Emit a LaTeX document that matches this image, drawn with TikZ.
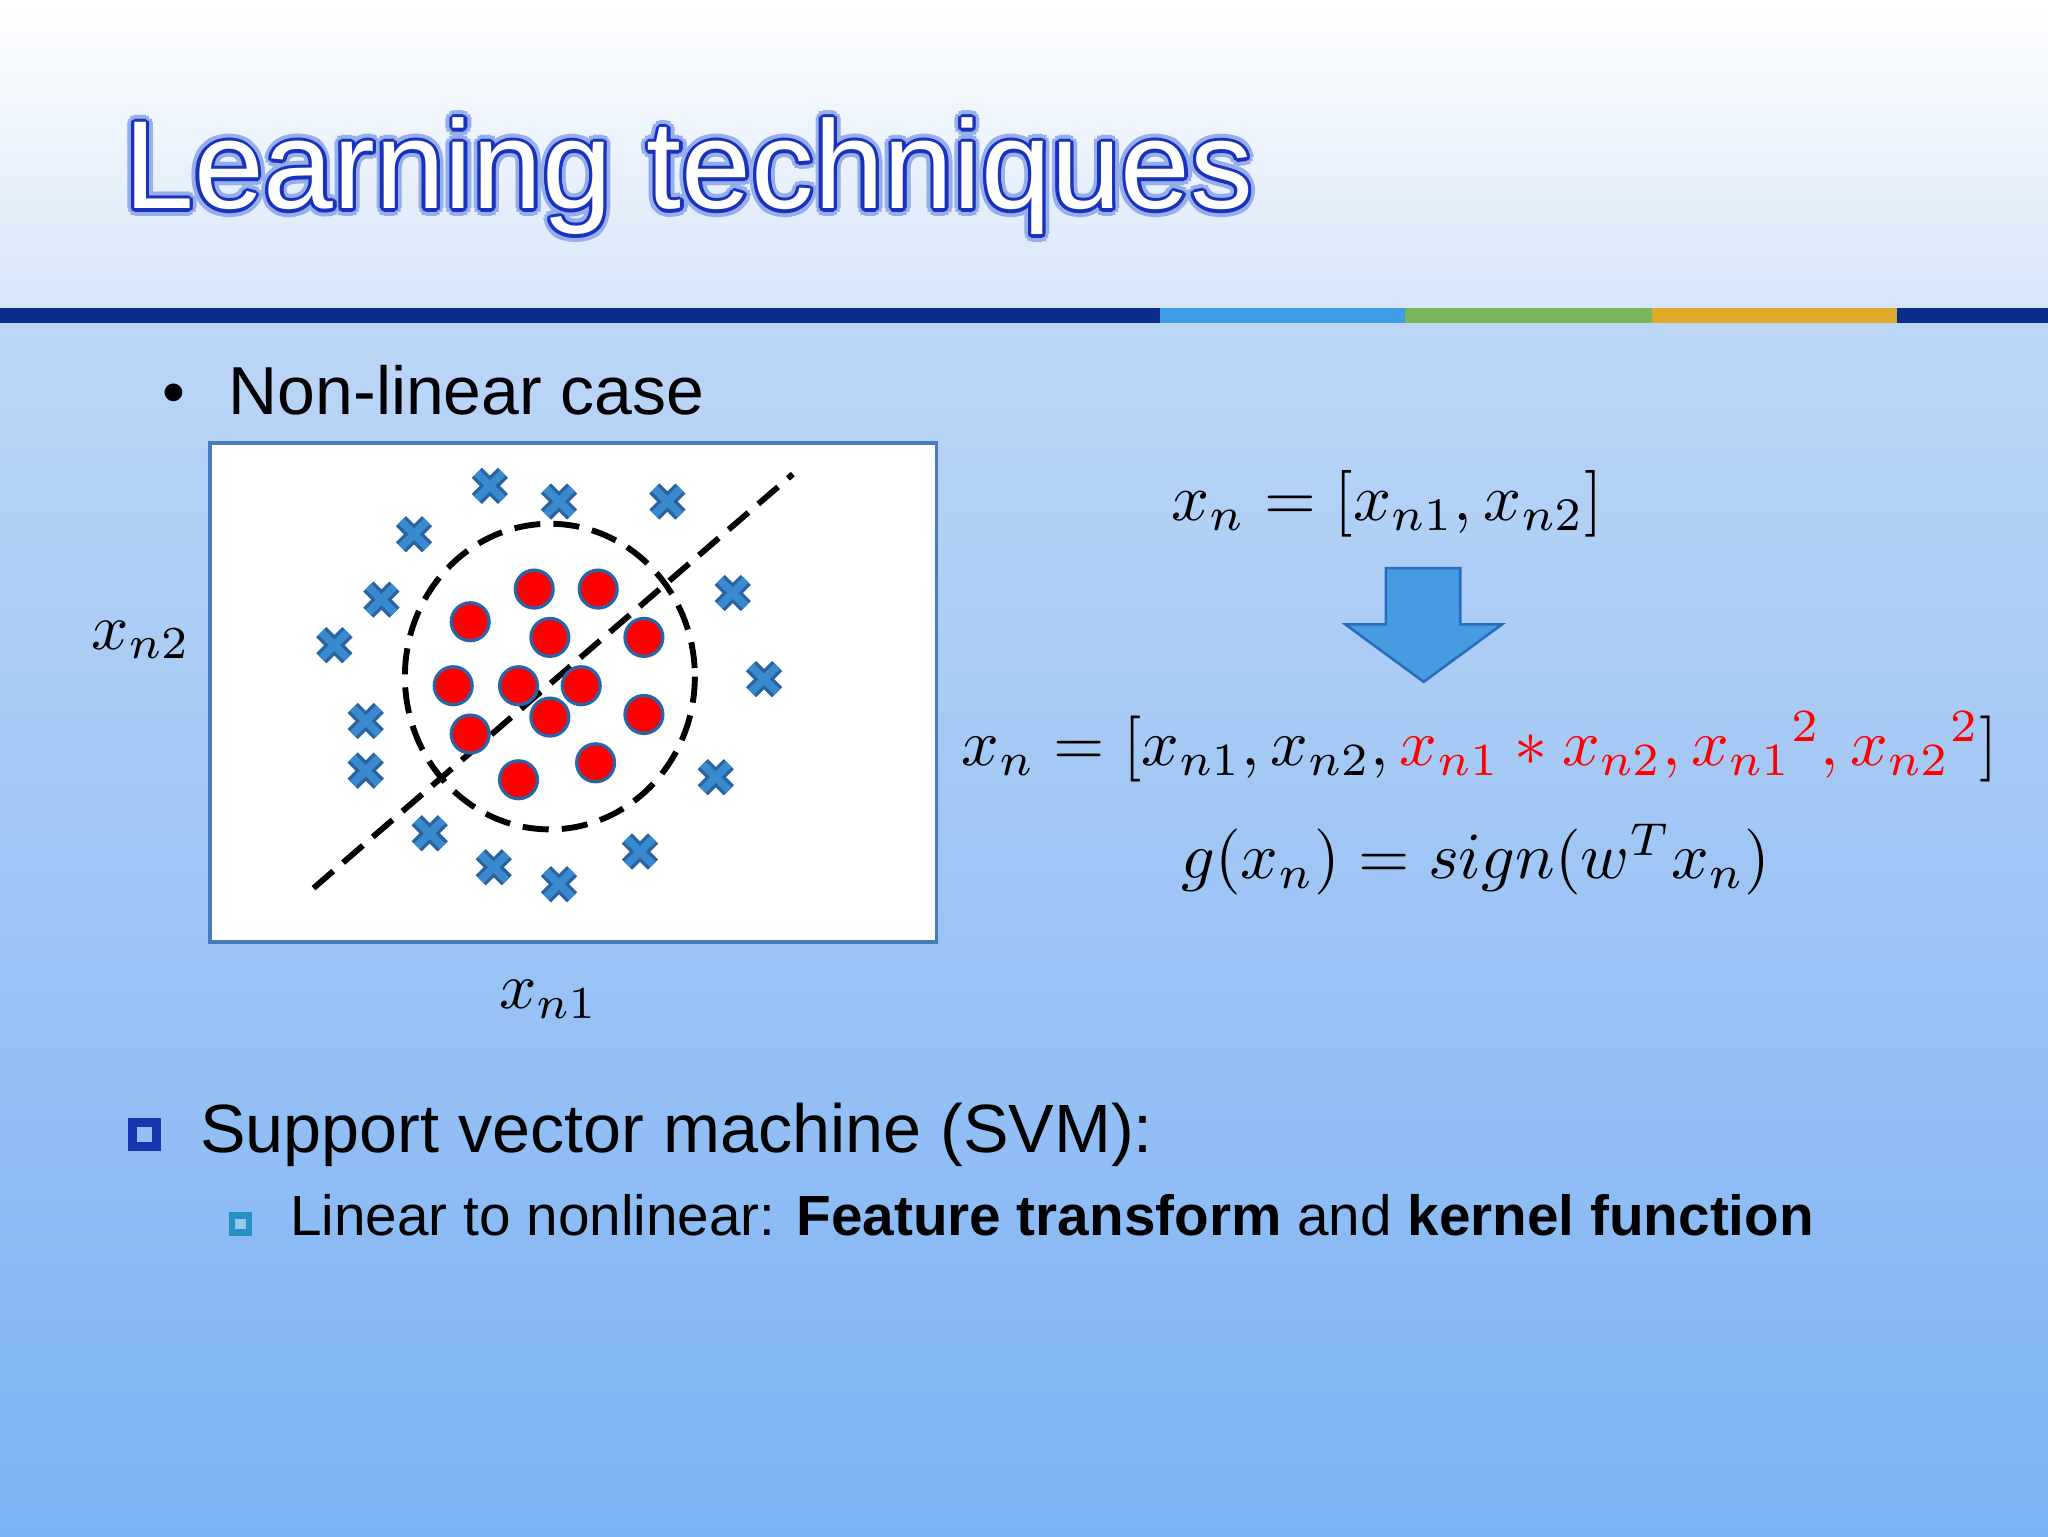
\documentclass[tikz,border=0pt]{standalone}
\usepackage{fontspec}
\setmainfont{Liberation Sans}
\usetikzlibrary{calc}
\definecolor{navy}{HTML}{0A2D8A}
\definecolor{xblue}{HTML}{3A8AD0}
\definecolor{xdark}{HTML}{2A62A0}
\definecolor{bgA}{RGB}{214,230,248}
\definecolor{bgB}{RGB}{188,214,246}
\definecolor{bgC}{RGB}{124,178,244}
\definecolor{barB}{RGB}{62,157,230}
\definecolor{barG}{RGB}{122,181,92}
\definecolor{barO}{RGB}{224,168,42}
\definecolor{titB}{RGB}{25,50,190}
\definecolor{titC}{RGB}{150,175,235}
\definecolor{boxB}{RGB}{70,125,185}
\definecolor{arrF}{RGB}{70,155,225}
\definecolor{arrD}{RGB}{40,110,190}
\definecolor{sqA}{RGB}{20,55,175}
\definecolor{sqAi}{RGB}{150,190,245}
\definecolor{sqB}{RGB}{40,145,195}
\definecolor{sqBi}{RGB}{150,200,240}
\definecolor{dotE}{RGB}{40,100,170}
\begin{document}
\begin{tikzpicture}[x=1pt,y=-1pt,
  reddot/.style={circle,fill=red,draw=dotE,line width=2.5pt,minimum size=29pt,inner sep=0pt},
  eq/.style={inner sep=0pt},
  tfont/.style={font=\fontsize{96}{100}\selectfont}]
\useasboundingbox (0,0) rectangle (1568,1176);
\shade[top color=white,bottom color=bgA] (0,0) rectangle (1568,236);
\shade[top color=bgB,bottom color=bgC] (0,247) rectangle (1568,1176);
\fill[navy] (0,236) rectangle (888,247);
\fill[barB] (888,236) rectangle (1076,247);
\fill[barG] (1076,236) rectangle (1265,247);
\fill[barO] (1265,236) rectangle (1452,247);
\fill[navy] (1452,236) rectangle (1568,247);
% title
\foreach \a in {0,30,...,330}{
  \node[anchor=base west,inner sep=0pt,text=titC,tfont] at ($(95,160)+(\a:5.5)$) {Learning techniques};}
\foreach \a in {0,30,...,330}{
  \node[anchor=base west,inner sep=0pt,text=titB,tfont] at ($(95,160)+(\a:2.5)$) {Learning techniques};}
\node[anchor=base west,inner sep=0pt,text=white,tfont] (title) at (95,160) {Learning techniques};
% bullet
\node[anchor=base west,inner sep=0pt,font=\fontsize{50}{54}\selectfont] (bb) at (124,317) {\textbullet};
\node[anchor=base west,inner sep=0pt,font=\fontsize{52}{56}\selectfont] (b1) at (175,317) {Non-linear case};
% plot box
\node[draw=boxB,fill=white,line width=3pt,minimum width=556pt,minimum height=382pt,inner sep=0pt] (box) at (439,530) {};
\draw[line width=4.5pt,dash pattern=on 20pt off 10pt] (421,518) ellipse [x radius=111,y radius=117];
\coordinate (l1) at (240,680); \coordinate (l2) at (607,363);
\draw[line width=4.5pt,dash pattern=on 20pt off 10pt] (l1) -- (l2);
\foreach \x/\y in {375/372,428/384,511/384,317/409,292/459,256/494,561/454,585/520,280/552,280/590,548/595,329/638,378/664,428/677,490/652}{
  \draw[draw=xdark,line width=11pt] (\x-10,\y-10) -- (\x+10,\y+10) (\x-10,\y+10) -- (\x+10,\y-10);
  \draw[draw=xblue,line width=6pt] (\x-10,\y-10) -- (\x+10,\y+10) (\x-10,\y+10) -- (\x+10,\y-10);}
\foreach \x/\y in {409/451,458/451,360/476,421/488,493/488,347/525,397/525,445/525,421/549,493/547,360/562,397/597,456/584}{
  \node[reddot] at (\x,\y) {};}
\node[eq] (lx2) at (108,490) {\scalebox{5}{$x_{n2}$}};
\node[eq] (lx1) at (420,765) {\scalebox{5}{$x_{n1}$}};
% equations
\node[eq] (e1) at (1062,386) {\scalebox{5.1}{$x_n=[x_{n1},x_{n2}]$}};
\draw[fill=arrF,draw=arrD,line width=2pt]
  (1061,435) -- (1118,435) -- (1118,478) -- (1150,478) -- (1090,522) -- (1030,478) -- (1061,478) -- cycle;
\node[eq] (e2) at (1133,572) {\scalebox{5.05}{$x_n=[x_{n1},x_{n2},\color{red}x_{n1}*x_{n2},x_{n1}{}^2,x_{n2}{}^2\color{black}]$}};
\node[eq] (e3) at (1130,658) {\scalebox{5.05}{$g(x_n)=sign(w^Tx_n)$}};
% bottom bullets
\fill[sqA] (98,856) rectangle (123,881);
\fill[sqAi] (105,863) rectangle (116,874);
\node[anchor=base west,inner sep=0pt,font=\fontsize{52.3}{57}\selectfont] (b2) at (153,882) {Support vector machine (SVM):};
\fill[sqB] (175,928) rectangle (193,946);
\fill[sqBi] (180,933) rectangle (188,941);
\node[anchor=base west,inner sep=0pt,font=\fontsize{43.4}{47}\selectfont] (b3) at (222,946) {Linear to nonlinear: \textbf{Feature transform} and \textbf{kernel function}};
\end{tikzpicture}
\end{document}
